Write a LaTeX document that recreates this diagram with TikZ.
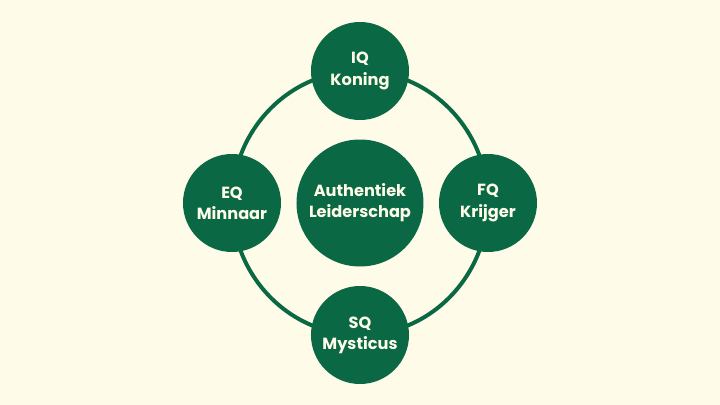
\documentclass[tikz,border=0pt]{standalone}
\usepackage{fontspec}
\setmainfont{Poppins}
\usetikzlibrary{positioning}

\definecolor{leafgreen}{HTML}{0A6844}
\definecolor{cream}{HTML}{FEFCE8}

\begin{document}
\begin{tikzpicture}[font=\fontsize{11.5}{15}\selectfont\bfseries,
  core/.style={circle, fill=leafgreen, text=cream, minimum size=3.175cm, inner sep=0pt, align=center},
  quad/.style={circle, fill=leafgreen, text=cream, minimum size=2.45cm, inner sep=0pt, align=center},
  ring/.style={draw=leafgreen, line width=0.1cm}]
\fill[cream] (-9,-5.05) rectangle (9,5.075);
\useasboundingbox (-9,-5.05) rectangle (9,5.075);
% ring through the four outer circles
\coordinate (mid) at (0,0);
\draw[ring] (mid) ellipse [x radius=3.2cm, y radius=3.3cm];
\node[core] (auth) at (mid) {Authentiek\\Leiderschap};
\node[quad] (iq) at (0,3.3) {IQ\\Koning};
\node[quad] (fq) at (3.2,0) {FQ\\Krijger};
\node[quad] (sq) at (0,-3.3) {SQ\\Mysticus};
\node[quad] (eq) at (-3.2,0) {EQ\\Minnaar};
\end{tikzpicture}
\end{document}
